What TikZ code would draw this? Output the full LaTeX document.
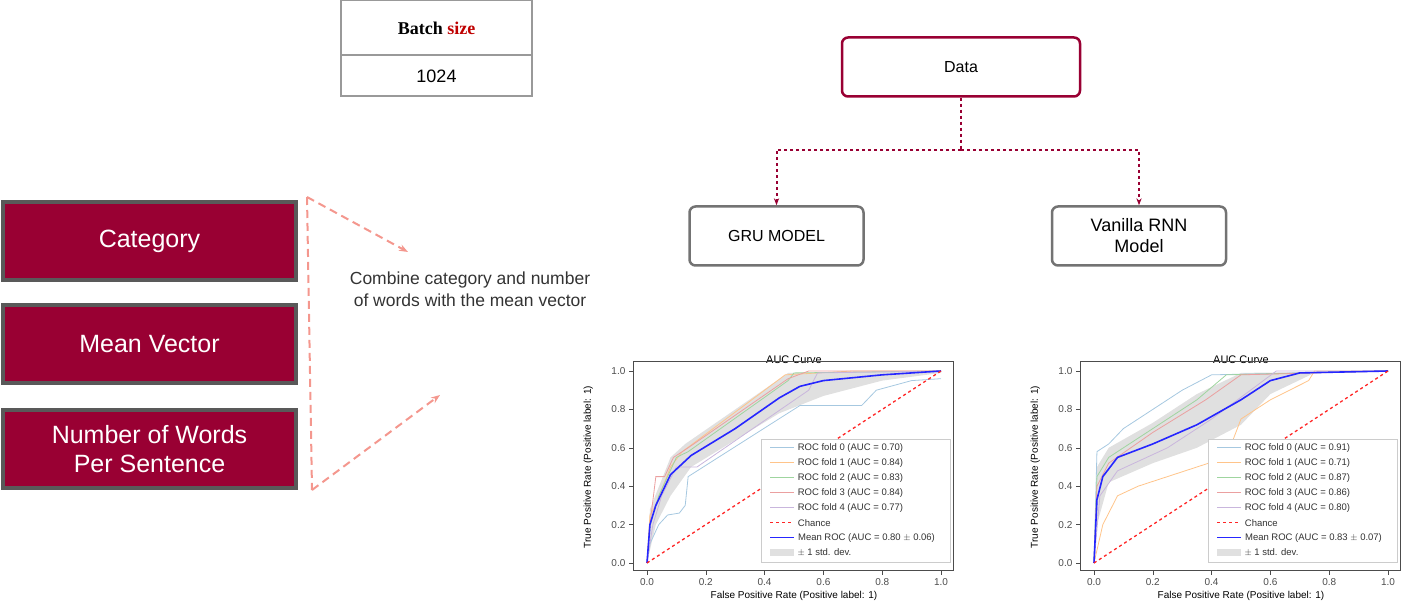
\documentclass[tikz,border=0pt]{standalone}
\usepackage{fontspec}
\setmainfont{Liberation Sans}
\newfontfamily\serifb{Liberation Serif}
\usetikzlibrary{arrows.meta}
\definecolor{wine}{HTML}{990033}
\definecolor{salmon}{HTML}{F4978E}
\definecolor{c0}{HTML}{A6C8E0}
\definecolor{c1}{HTML}{FFC48A}
\definecolor{c2}{HTML}{9FD59F}
\definecolor{c3}{HTML}{EBA0A0}
\definecolor{c4}{HTML}{C9B6DD}
\tikzset{
 feat/.style={draw=black!65,line width=4pt,fill=wine,text=white,minimum width=293pt,minimum height=78pt,font=\fontsize{25}{29}\selectfont,align=center},
 modelbox/.style={draw=black!55,line width=2.5pt,rounded corners=6pt,fill=white,minimum width=174pt,minimum height=59pt,font=\fontsize{16}{19}\selectfont,align=center},
 link/.style={wine,line width=2pt,dashed,-{Stealth[length=7pt]}},
 pink/.style={salmon,line width=2pt,dash pattern=on 8pt off 5pt,-{Stealth[length=9pt]}},
 tick/.style={font=\fontsize{10}{12}\selectfont},
}
\newcommand{\rocplot}[3]{%
\begin{scope}[shift={(#1,563)},x=294pt,y=192pt]
 \node[font=\fontsize{11}{13}\selectfont] at (0.5,1.06) {AUC Curve};
 \fill[black!12] #3;
 \draw[black!70] (-0.048,-0.04) rectangle (1.042,1.05);
 \foreach \v in {0.0,0.2,0.4,0.6,0.8,1.0}{
  \draw[black!70] (\v,-0.04) -- ++(0,-4pt) node[below,tick]{\v};
  \draw[black!70] (-0.048,\v) -- ++(-4pt,0) node[left,tick]{\v};}
 \node[font=\fontsize{10}{12}\selectfont] at (0.5,-0.17) {False Positive Rate (Positive label: 1)};
 \node[font=\fontsize{10}{12}\selectfont,rotate=90] at (-0.2,0.5) {True Positive Rate (Positive label: 1)};
 #2
 \draw[red!85,line width=1.3pt,dashed] (0,0) -- (1,1);
 \draw[white,fill=white,draw=black!20] (0.39,0.005) rectangle (1.03,0.645);
 \foreach \c/\t [count=\i from 0] in {c0/,c1/,c2/,c3/,c4/}{}
\end{scope}}
\newcommand{\legend}[7]{%
\begin{scope}[shift={(#1,563)},x=294pt,y=192pt,font=\fontsize{9.5}{11}\selectfont]
 \foreach \c/\t [count=\i from 0] in {c0/#2,c1/#3,c2/#4,c3/#5,c4/#6}{
  \draw[\c,line width=1pt] (0.42,{0.6-0.078*\i}) -- (0.5,{0.6-0.078*\i}) node[right,text=black!80]{ROC fold \i\ (AUC = \t)};}
 \draw[red!85,line width=1.3pt,dashed] (0.42,0.21) -- (0.5,0.21) node[right,text=black!80]{Chance};
 \draw[blue!85,line width=1.5pt] (0.42,0.132) -- (0.5,0.132) node[right,text=black!80]{Mean ROC (AUC = #7)};
 \fill[black!12] (0.42,0.035) rectangle (0.5,0.075);
 \node[right,text=black!80] at (0.5,0.055) {$\pm$ 1 std. dev.};
\end{scope}}
\begin{document}
\begin{tikzpicture}[x=1pt,y=-1pt]
\useasboundingbox (0,0) rectangle (1409,609);
% batch table
\draw[black!40,line width=1.5pt] (341,0) rectangle (532,96);
\draw[black!40,line width=1.5pt] (341,55) -- (532,55);
\node (bs) at (436.5,28) {\serifb\bfseries\fontsize{18}{21}\selectfont Batch \textcolor{red!75!black}{size}};
\node (bv) at (436.5,76) {\fontsize{18}{21}\selectfont 1024};
% features
\node[feat] (cat) at (149.5,241) {Category};
\node[feat] (mv) at (149.5,344) {Mean Vector};
\node[feat] (nw) at (149.5,449.5) {Number of Words\\Per Sentence};
\coordinate (pt) at (307,197);
\coordinate (pb) at (312,490);
\node[align=center,text=black!80,font=\fontsize{17.5}{22}\selectfont] (comb) at (470,289) {Combine category and number\\of words with the mean vector};
\coordinate (at) at (408,252);
\coordinate (ab) at (440,395);
\draw[salmon,line width=2pt,dash pattern=on 8pt off 5pt] (pt) -- (pb);
\draw[pink] (pt) -- (at);
\draw[pink] (pb) -- (ab);
% models
\node[modelbox,draw=wine,minimum width=238pt] (data) at (961,67) {Data};
\node[modelbox] (gru) at (776.5,236) {GRU MODEL};
\node[modelbox,font=\fontsize{18}{21}\selectfont] (rnn) at (1139,236) {Vanilla RNN\\Model};
\coordinate (split) at (961,150);
\draw[wine,line width=2pt,dashed] (data.south) -- (split);
\draw[link] (split) -| (gru.north);
\draw[link] (split) -| (rnn.north);
% plots
\rocplot{647}{%
 \draw[c0,line width=0.8pt] (0,0) -- (0.01,0.1) -- (0.04,0.2) -- (0.07,0.25) -- (0.11,0.26) -- (0.13,0.3) -- (0.14,0.45) -- (0.52,0.82) -- (0.73,0.82) -- (0.78,0.9) -- (0.9,0.95) -- (1,0.96);
 \draw[c1,line width=0.8pt] (0,0) -- (0.01,0.25) -- (0.03,0.3) -- (0.08,0.5) -- (0.12,0.58) -- (0.47,0.98) -- (0.7,1) -- (1,1);
 \draw[c2,line width=0.8pt] (0,0) -- (0.01,0.2) -- (0.04,0.35) -- (0.1,0.55) -- (0.14,0.58) -- (0.48,0.95) -- (0.5,0.99) -- (1,1);
 \draw[c3,line width=0.8pt] (0,0) -- (0.01,0.2) -- (0.03,0.45) -- (0.06,0.45) -- (0.09,0.55) -- (0.14,0.6) -- (0.48,0.96) -- (0.55,1) -- (1,1);
 \draw[c4,line width=0.8pt] (0,0) -- (0.02,0.2) -- (0.05,0.35) -- (0.1,0.5) -- (0.17,0.5) -- (0.55,0.9) -- (0.58,0.99) -- (1,1);
 \draw[blue!85,line width=1.6pt] (0,0) -- (0.01,0.2) -- (0.03,0.3) -- (0.08,0.46) -- (0.15,0.56) -- (0.3,0.7) -- (0.45,0.86) -- (0.52,0.92) -- (0.6,0.95) -- (0.8,0.98) -- (1,1);}%
 {(0,0) -- (0.01,0.28) -- (0.08,0.55) -- (0.13,0.62) -- (0.48,0.99) -- (1,1) -- (1,0.99) -- (0.8,0.95) -- (0.6,0.87) -- (0.45,0.78) -- (0.15,0.5) -- (0.08,0.35) -- (0.03,0.2) -- cycle}
\legend{647}{0.70}{0.84}{0.83}{0.84}{0.77}{0.80 $\pm$ 0.06}
\rocplot{1094}{%
 \draw[c0,line width=0.8pt] (0,0) -- (0.01,0.58) -- (0.05,0.62) -- (0.1,0.7) -- (0.3,0.9) -- (0.4,0.98) -- (1,1);
 \draw[c1,line width=0.8pt] (0,0) -- (0.03,0.2) -- (0.08,0.35) -- (0.15,0.4) -- (0.45,0.55) -- (0.5,0.75) -- (0.6,0.85) -- (0.73,0.95) -- (0.75,1) -- (1,1);
 \draw[c2,line width=0.8pt] (0,0) -- (0.01,0.45) -- (0.05,0.55) -- (0.2,0.7) -- (0.35,0.85) -- (0.45,0.98) -- (1,1);
 \draw[c3,line width=0.8pt] (0,0) -- (0.01,0.4) -- (0.05,0.52) -- (0.2,0.68) -- (0.38,0.85) -- (0.5,0.98) -- (1,1);
 \draw[c4,line width=0.8pt] (0,0) -- (0.02,0.35) -- (0.08,0.48) -- (0.25,0.6) -- (0.4,0.75) -- (0.55,0.92) -- (0.62,1) -- (1,1);
 \draw[blue!85,line width=1.6pt] (0,0) -- (0.01,0.33) -- (0.03,0.45) -- (0.08,0.55) -- (0.2,0.62) -- (0.35,0.72) -- (0.5,0.85) -- (0.6,0.95) -- (0.7,0.99) -- (1,1);}%
 {(0,0) -- (0.01,0.5) -- (0.05,0.6) -- (0.2,0.73) -- (0.35,0.88) -- (0.5,0.99) -- (1,1) -- (0.75,0.99) -- (0.6,0.88) -- (0.5,0.72) -- (0.35,0.6) -- (0.2,0.52) -- (0.05,0.42) -- (0.01,0.2) -- cycle}
\legend{1094}{0.91}{0.71}{0.87}{0.86}{0.80}{0.83 $\pm$ 0.07}
\end{tikzpicture}
\end{document}
